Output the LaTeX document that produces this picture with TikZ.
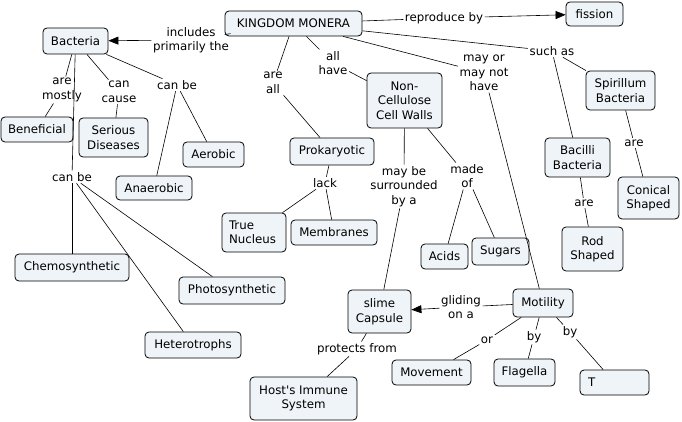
\documentclass[tikz,border=0pt]{standalone}
\usepackage{fontspec}
\setmainfont{DejaVu Sans}[Ligatures=TeXOff]
\usetikzlibrary{arrows.meta}
\definecolor{boxfill}{RGB}{238,244,247}
\begin{document}
\begin{tikzpicture}[x=1pt,y=-1pt,
  box/.style={draw=black, fill=boxfill, rounded corners=4pt, line width=0.8pt, inner sep=0pt, align=center, font=\fontsize{11.8}{14.5}\selectfont},
  lbl/.style={inner sep=1.5pt, align=center, font=\fontsize{11.8}{14.5}\selectfont},
  conn/.style={line width=0.6pt},
  arr/.style={conn, -{Triangle[length=10pt,width=8pt]}}]
\useasboundingbox (0,0) rectangle (682,422);
\fill[white] (0,0) rectangle (682,422);

% concept boxes
\node[box, minimum width=137pt, minimum height=25pt] (km) at (293.5,23.5) {KINGDOM MONERA};
\node[box, minimum width=57pt, minimum height=24pt] (fission) at (594.5,14) {fission};
\node[box, minimum width=65pt, minimum height=26pt] (bact) at (75.5,41) {Bacteria};
\node[box, minimum width=72pt, minimum height=25pt] (benef) at (37,129.5) {Beneficial};
\node[box, minimum width=69pt, minimum height=39pt] (serious) at (113.5,137.5) {Serious\\Diseases};
\node[box, minimum width=61pt, minimum height=25pt] (aerobic) at (213.5,154.5) {Aerobic};
\node[box, minimum width=76pt, minimum height=24pt] (anaer) at (154,188) {Anaerobic};
\node[box, minimum width=114pt, minimum height=27pt] (chemo) at (72,267.5) {Chemosynthetic};
\node[box, minimum width=106pt, minimum height=27pt] (photo) at (232,290.5) {Photosynthetic};
\node[box, minimum width=96pt, minimum height=26pt] (hetero) at (193,345) {Heterotrophs};
\node[box, minimum width=64pt, minimum height=39pt, text width=50pt, align=left] (truenuc) at (254,232.5) {True\\Nucleus};
\node[box, minimum width=86pt, minimum height=25pt] (membr) at (334,232.5) {Membranes};
\node[box, minimum width=84pt, minimum height=27pt] (prok) at (332,151.5) {Prokaryotic};
\node[box, minimum width=75pt, minimum height=55pt] (noncell) at (404.5,100.5) {Non-\\Cellulose\\Cell Walls};
\node[box, minimum width=47pt, minimum height=25pt] (acids) at (444.5,256.5) {Acids};
\node[box, minimum width=57pt, minimum height=27pt] (sugars) at (500.5,251.5) {Sugars};
\node[box, minimum width=63pt, minimum height=43pt] (slime) at (379.5,311.5) {slime\\Capsule};
\node[box, minimum width=107pt, minimum height=43pt] (host) at (303.5,398.5) {Host's Immune\\System};
\node[box, minimum width=79pt, minimum height=25pt] (movement) at (431.5,372.5) {Movement};
\node[box, minimum width=60pt, minimum height=28pt] (motility) at (543,303) {Motility};
\node[box, minimum width=61pt, minimum height=27pt] (flagella) at (524.5,372.5) {Flagella};
\node[box, minimum width=69pt, minimum height=25pt, text width=53pt, align=left] (tbox) at (614.5,382.5) {T};
\node[box, minimum width=61pt, minimum height=44pt] (rod) at (592.5,249) {Rod\\Shaped};
\node[box, minimum width=61pt, minimum height=42pt] (conical) at (648.5,198) {Conical\\Shaped};
\node[box, minimum width=69pt, minimum height=39pt] (spir) at (620.5,90.5) {Spirillum\\Bacteria};
\node[box, minimum width=65pt, minimum height=39pt] (bacilli) at (577.5,157.5) {Bacilli\\Bacteria};

% linking phrases
\node[lbl] (lincl) at (191,40) {includes\\primarily the};
\node[lbl] (lrepro) at (444,18) {reproduce by};
\node[lbl] (lareall) at (273,83) {are\\all};
\node[lbl] (lallhave) at (333,63) {all\\have};
\node[lbl] (lmaymay) at (484,73) {may or\\may not\\have};
\node[lbl] (lsuch) at (552,51) {such as};
\node[lbl] (lareA) at (634,143) {are};
\node[lbl] (lareB) at (584,203) {are};
\node[lbl] (lmostly) at (62,90) {are\\mostly};
\node[lbl] (lcause) at (119,92) {can\\cause};
\node[lbl] (lcanbeA) at (177,85) {can be};
\node[lbl] (lcanbeB) at (72,177) {can be};
\node[lbl] (llack) at (325,183) {lack};
\node[lbl] (lsurr) at (404,186.5) {may be\\surrounded\\by a};
\node[lbl] (lmade) at (467,176) {made\\of};
\node[lbl] (lglide) at (461,307) {gliding\\on a};
\node[lbl] (lprot) at (357,349) {protects from};
\node[lbl] (lor) at (487,340) {or};
\node[lbl] (lbyA) at (534,337) {by};
\node[lbl] (lbyB) at (570,332) {by};

% connectors
\draw[conn] (km) -- (lincl);
\draw[arr] (lincl) -- (bact);
\draw[conn] (km) -- (lrepro);
\draw[arr] (lrepro) -- (fission);
\draw[conn] (km) -- (lareall);
\draw[conn] (lareall) -- (prok);
\draw[conn] (km) -- (lallhave);
\draw[conn] (lallhave) -- (noncell);
\draw[conn] (km) -- (lmaymay);
\draw[conn] (lmaymay) -- (motility);
\draw[conn] (km) -- (lsuch);
\draw[conn] (lsuch) -- (spir);
\draw[conn] (lsuch) -- (bacilli);
\draw[conn] (spir) -- (lareA);
\draw[conn] (lareA) -- (conical);
\draw[conn] (bacilli) -- (lareB);
\draw[conn] (lareB) -- (rod);

\draw[conn] (bact) -- (lmostly);
\draw[conn] (lmostly) -- (benef);
\draw[conn] (bact) -- (lcause);
\draw[conn] (lcause) -- (serious);
\draw[conn] (bact) -- (lcanbeA);
\draw[conn] (lcanbeA) -- (anaer);
\draw[conn] (lcanbeA) -- (aerobic);
\draw[conn] (bact) -- (lcanbeB);
\draw[conn] (lcanbeB) -- (chemo);
\draw[conn] (lcanbeB) -- (photo);
\draw[conn] (lcanbeB) -- (hetero);

\draw[conn] (prok) -- (llack);
\draw[conn] (llack) -- (truenuc);
\draw[conn] (llack) -- (membr);
\draw[conn] (noncell) -- (lsurr);
\draw[conn] (lsurr) -- (slime);
\draw[conn] (noncell) -- (lmade);
\draw[conn] (lmade) -- (acids);
\draw[conn] (lmade) -- (sugars);

\draw[conn] (slime) -- (lprot);
\draw[conn] (lprot) -- (host);
\draw[conn] (motility) -- (lglide);
\draw[arr] (lglide) -- (slime);
\draw[conn] (motility) -- (lor);
\draw[conn] (lor) -- (movement);
\draw[conn] (motility) -- (lbyA);
\draw[conn] (lbyA) -- (flagella);
\draw[conn] (motility) -- (lbyB);
\draw[conn] (lbyB) -- (tbox);
\end{tikzpicture}
\end{document}
